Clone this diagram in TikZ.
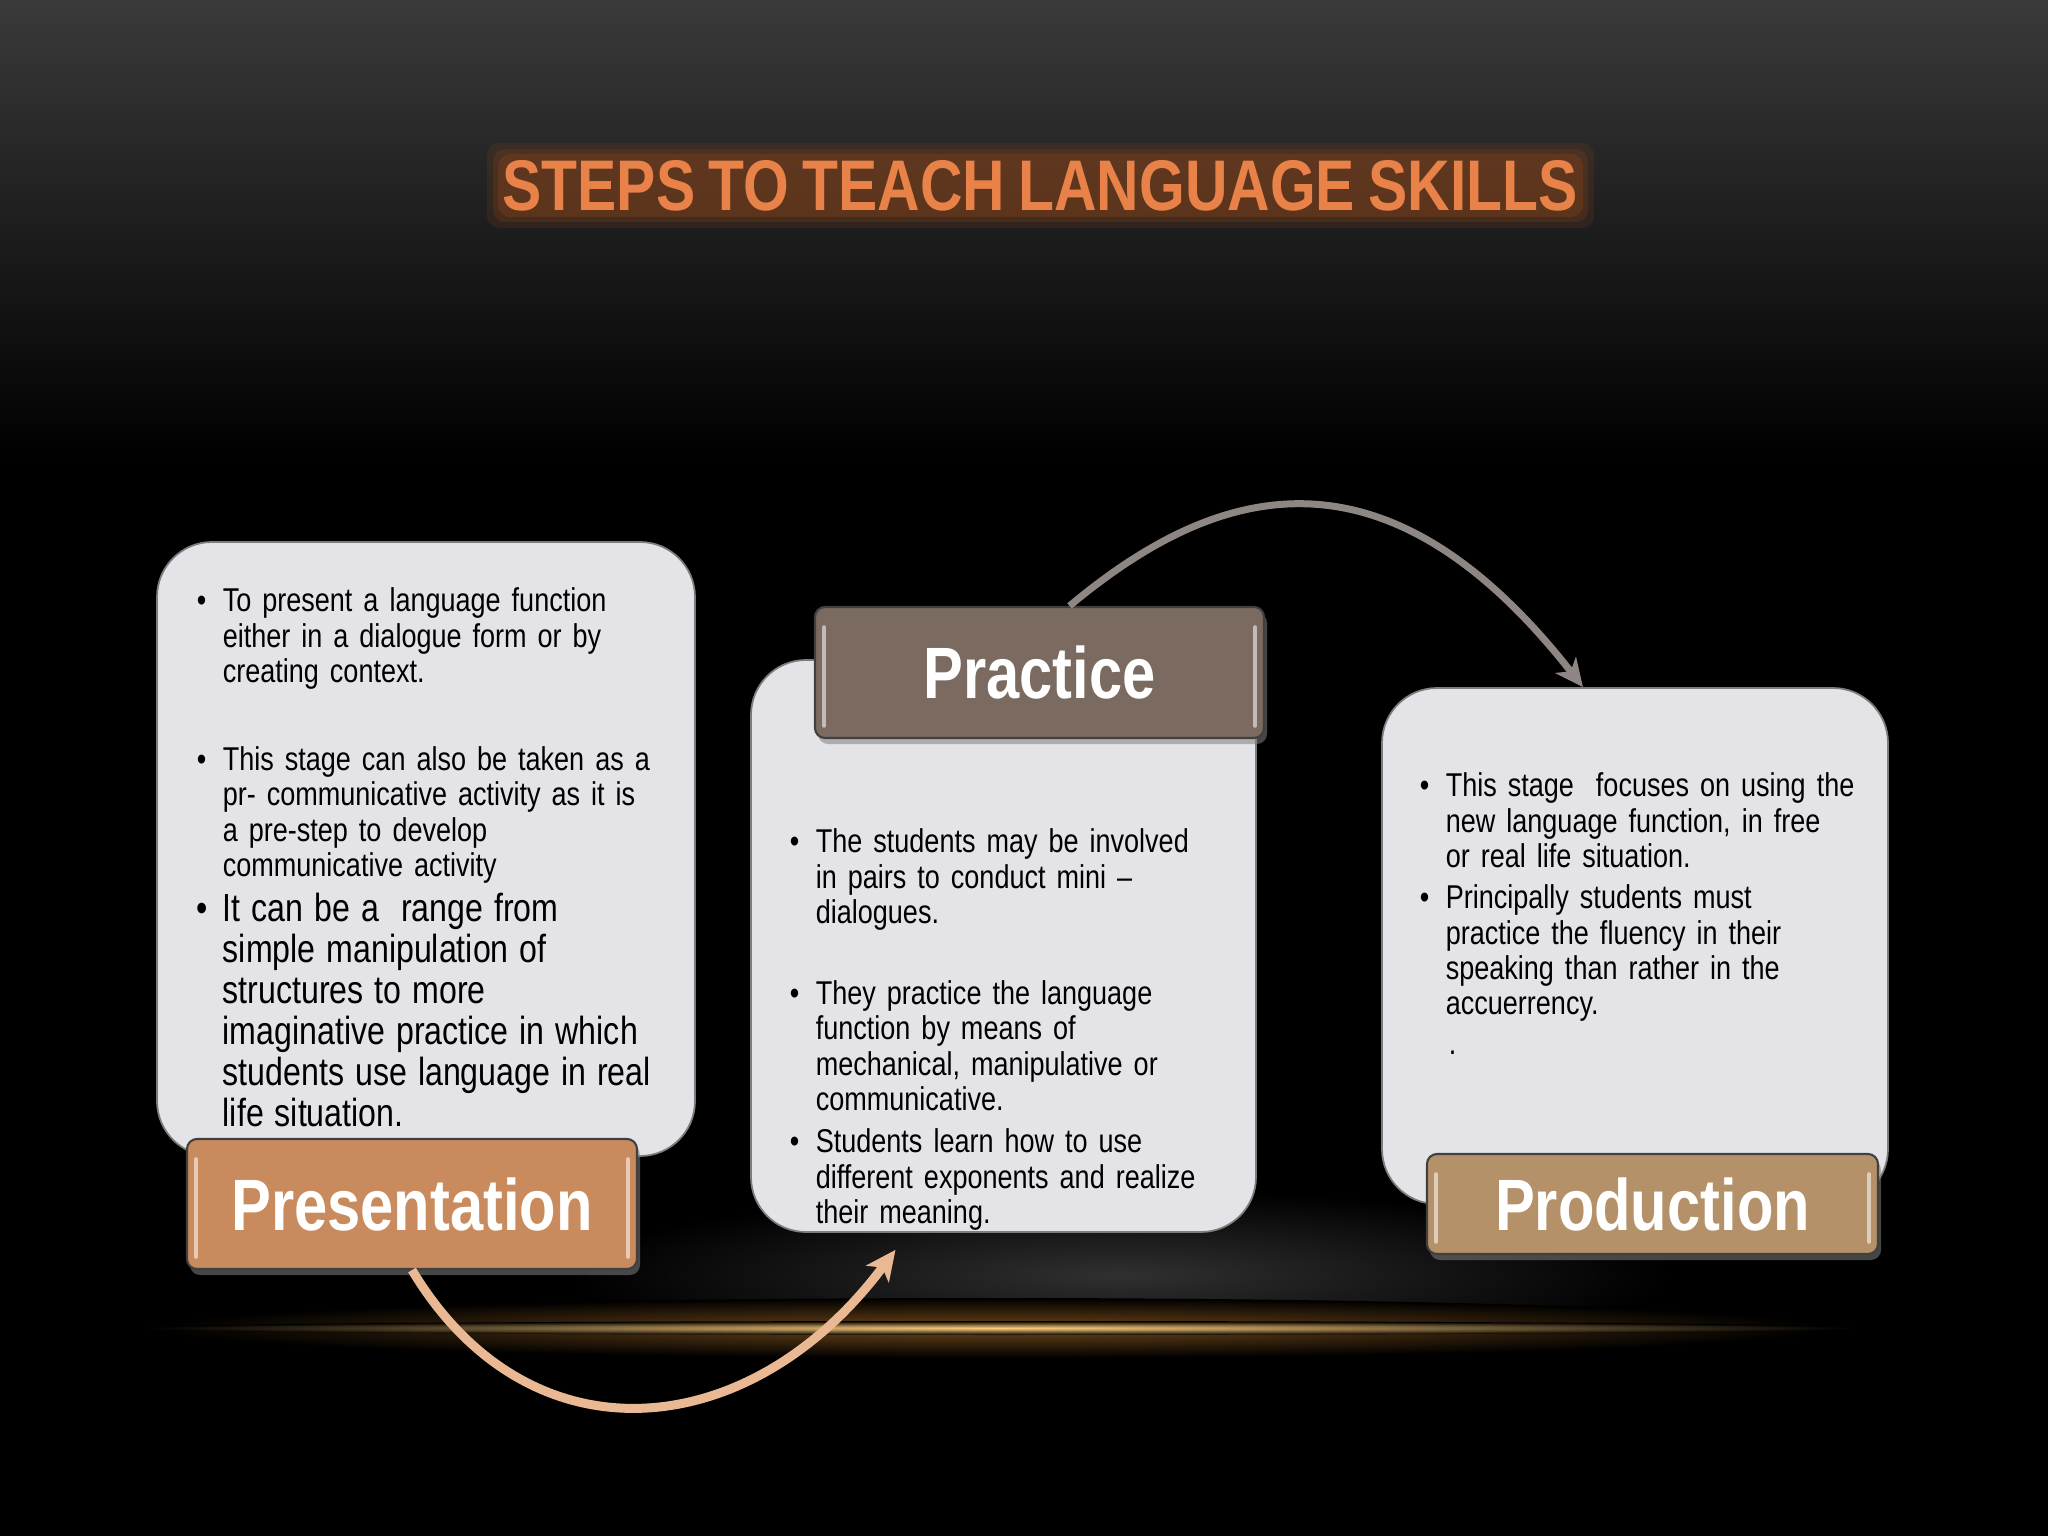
\documentclass[tikz,border=0pt]{standalone}
\usepackage{fontspec}
\setmainfont{Liberation Sans}
\newfontfamily\narrowfont{Liberation Sans}[FakeStretch=0.82, WordSpace=0.82]
\usetikzlibrary{arrows.meta,shadows,positioning}

\definecolor{bgtop}{RGB}{58,58,58}
\definecolor{hazegray}{RGB}{48,48,48}
\definecolor{glowline}{RGB}{255,205,120}
\definecolor{glowbrown}{RGB}{110,70,25}
\definecolor{panelfill}{RGB}{228,227,231}
\definecolor{panelline}{RGB}{125,125,125}
\definecolor{presbrown}{RGB}{201,139,94}
\definecolor{pracbrown}{RGB}{123,106,96}
\definecolor{prodbrown}{RGB}{181,145,105}
\definecolor{titleorange}{RGB}{232,130,72}
\definecolor{titleglow}{RGB}{135,68,28}
\definecolor{peach}{RGB}{234,184,146}
\definecolor{arrowgray}{RGB}{142,134,131}

\newcommand{\bitem}[1]{\noindent\hangindent=0.26cm\hangafter=1\makebox[0.26cm][l]{\textbullet}#1\par}

\tikzset{
  panel/.style={draw=panelline, line width=0.5pt, fill=panelfill, rounded corners=0.55cm, inner sep=0pt},
  stagelabel/.style={fill=#1, draw=black!75, line width=0.6pt, rounded corners=0.1cm, inner sep=0pt,
    text=white, font=\narrowfont\bfseries\fontsize{20.7}{24}\selectfont,
    drop shadow={shadow xshift=0.03cm, shadow yshift=-0.06cm, opacity=0.55},
    path picture={
      \draw[white, opacity=0.55, line width=1pt, line cap=round]
        ([xshift=0.09cm,yshift=-0.2cm]path picture bounding box.north west) -- ([xshift=0.09cm,yshift=0.12cm]path picture bounding box.south west)
        ([xshift=-0.09cm,yshift=-0.2cm]path picture bounding box.north east) -- ([xshift=-0.09cm,yshift=0.12cm]path picture bounding box.south east);
    }},
  bodytext/.style={anchor=north west, inner sep=0pt, text width=5cm, align=left, text=black,
    font=\narrowfont\fontsize{9.38}{10.05}\selectfont},
  titletext/.style={font=\narrowfont\bfseries\fontsize{20.4}{24}\selectfont, inner sep=0pt},
  peacharrow/.style={draw=peach, line width=0.09cm, -{Stealth[length=0.3cm, width=0.28cm, inset=0.08cm]}},
  grayarrow/.style={draw=arrowgray, line width=0.07cm, -{Stealth[length=0.28cm, width=0.26cm, inset=0.08cm]}}
}

\begin{document}
\begin{tikzpicture}
  % background
  \fill[black] (0,0) rectangle (20.48,-15.36);
  \useasboundingbox (0,0) rectangle (20.48,-15.36);
  \shade[top color=bgtop, bottom color=black] (0,0) rectangle (20.48,-4.6);
  \shade[inner color=hazegray, outer color=black] (11.2,-12.75) ellipse (5.5 and 0.85);
  \shade[inner color=glowbrown, outer color=black] (9.9,-13.28) ellipse (8.4 and 0.3);
  \shade[inner color=glowline, outer color=black] (10.0,-13.28) ellipse (8.6 and 0.07);

  % title with its glow
  \foreach \r/\o in {0.16/0.18, 0.10/0.25, 0.05/0.35}
    \fill[titleglow, opacity=\o, rounded corners=0.12cm] (5.03-\r,-1.59+\r) rectangle (15.78+\r,-2.12-\r);
  \node[titletext, text=titleorange] (title) at (10.40,-1.855) {STEPS TO TEACH LANGUAGE SKILLS};

  % panels
  \node[panel, minimum width=5.38cm, minimum height=6.14cm] (pres-box) at (4.26,-8.49) {};
  \node[panel, minimum width=5.05cm, minimum height=5.72cm] (prac-box) at (10.035,-9.46) {};
  \node[panel, minimum width=5.06cm, minimum height=5.16cm] (prod-box) at (16.35,-9.46) {};

  % labels
  \node[stagelabel=presbrown, minimum width=4.50cm, minimum height=1.30cm] (pres-label) at (4.12,-12.04) {Presentation};
  \node[stagelabel=pracbrown, minimum width=4.49cm, minimum height=1.31cm] (prac-label) at (10.395,-6.725) {Practice};
  \node[stagelabel=prodbrown, minimum width=4.51cm, minimum height=1.00cm] (prod-label) at (16.525,-12.04) {Production};

  % texts
  \node[bodytext] (pres-text) at ([shift={(0.40,-0.46)}]pres-box.north west) {
    \bitem{To present a language function\newline either in a dialogue form or by\newline creating context.}
    \vspace{0.53cm}
    \bitem{This stage can also be taken as a\newline pr- communicative activity as it is\newline a pre-step to develop\newline communicative activity}
    \vspace{0.04cm}
    {\fontsize{11.15}{11.65}\selectfont
    \bitem{It can be a~ range from\newline simple manipulation of\newline structures to more\newline imaginative practice in which\newline students use language in real\newline life situation.}}
  };
  \node[bodytext] (prac-text) at ([shift={(0.39,-1.69)}]prac-box.north west) {
    \bitem{The students may be involved\newline in pairs to conduct mini –\newline dialogues.}
    \vspace{0.46cm}
    \bitem{They practice the language\newline function by means of\newline mechanical, manipulative or\newline communicative.}
    \vspace{0.07cm}
    \bitem{Students learn how to use\newline different exponents and realize\newline their meaning.}
  };
  \node[bodytext] (prod-text) at ([shift={(0.38,-0.85)}]prod-box.north west) {
    \bitem{This stage~ focuses on using the\newline new language function, in free\newline or real life situation.}
    \vspace{0.06cm}
    \bitem{Principally students must\newline practice the fluency in their\newline speaking than rather in the\newline accuerrency.}
    \vspace{0.05cm}
    \noindent\hspace{0.29cm}.\par
  };

  % arrows
  \draw[peacharrow] (pres-label.south) .. controls (5.29,-14.65) and (7.5,-14.45) .. ([shift={(-1.08,-0.17)}]prac-box.south);
  \draw[grayarrow] ([xshift=0.3cm]prac-label.north) .. controls (12.05,-4.93) and (13.77,-4.24) .. ([xshift=-0.52cm]prod-box.north);
\end{tikzpicture}
\end{document}
